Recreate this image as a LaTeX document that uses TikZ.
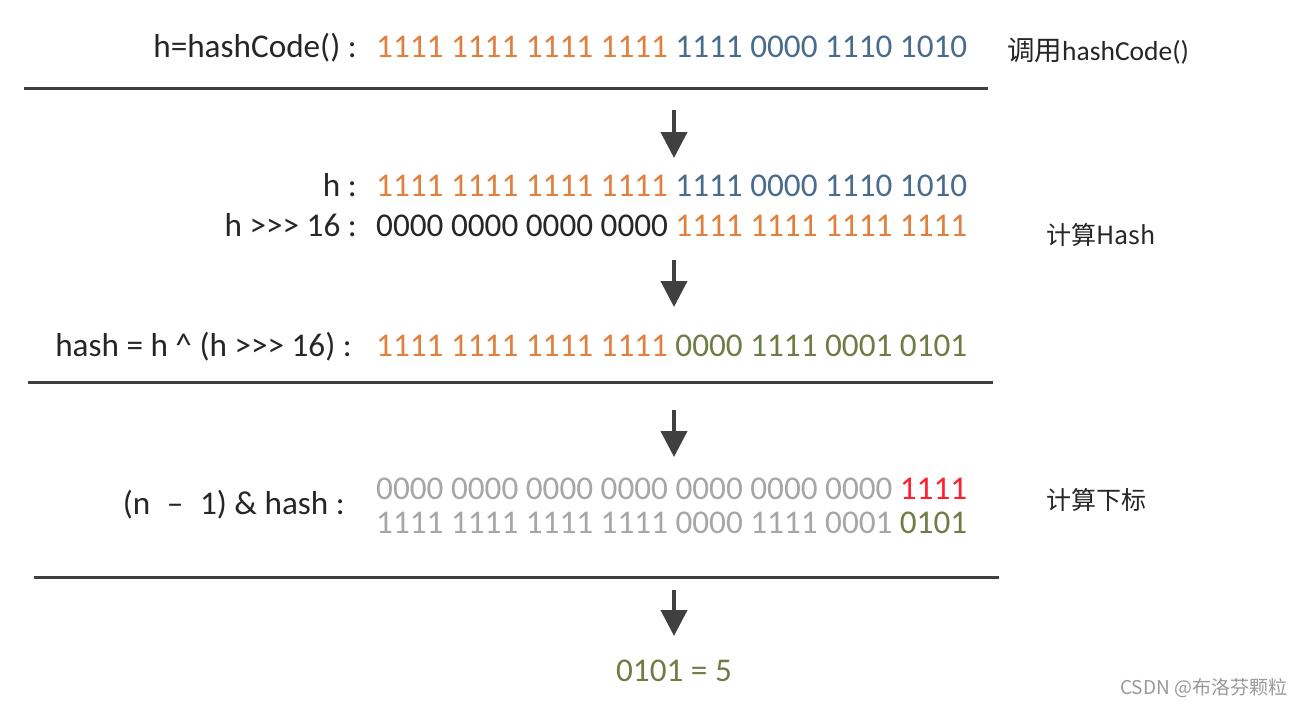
\documentclass[tikz,border=0pt]{standalone}
\usepackage{fontspec}
\setmainfont{Carlito}
\newfontfamily\cjk{Noto Sans CJK SC}
\usetikzlibrary{arrows.meta,positioning}
\definecolor{horange}{HTML}{E0803E}
\definecolor{hblue}{HTML}{4A6C8C}
\definecolor{holive}{HTML}{6E7D45}
\definecolor{hgray}{HTML}{A6A6A6}
\definecolor{hred}{HTML}{FF1F2F}
\definecolor{hdark}{HTML}{262626}
\definecolor{hrule}{HTML}{404040}
\newcommand{\shr}{>{}>{}>}

\begin{document}
\begin{tikzpicture}[x=1pt,y=-1pt,
  bits/.style={inner sep=0pt,font=\fontsize{33.2}{40}\selectfont,anchor=base west},
  lbl/.style={inner sep=0pt,font=\fontsize{33.2}{40}\selectfont,text=hdark,anchor=base east},
  side/.style={inner sep=0pt,font=\fontsize{27.5}{30}\selectfont,text=hdark,anchor=base west},
  sep/.style={hrule,line width=3pt},
  down/.style={hrule,line width=4pt,-{Triangle[width=26pt,length=26pt]}}]
  \useasboundingbox (0,0) rectangle (1307,704);
  % step 1: hashCode
  \node[lbl] (l1) at (357,57) {h=hashCode() :};
  \node[bits] (r1) at (376,57) {\textcolor{horange}{1111 1111 1111 1111} \textcolor{hblue}{1111 0000 1110 1010}};
  \node[side] (s1) at (1007,60) {{\cjk 调用}hashCode()};
  \draw[sep] (24,88) -- (988,88);
  \coordinate (a1s) at (674,110); \coordinate (a1e) at (674,158);
  \draw[down] (a1s) -- (a1e);
  % step 2: hash
  \node[lbl] (l2) at (357,196) {h :};
  \node[bits] (r2) at (376,196) {\textcolor{horange}{1111 1111 1111 1111} \textcolor{hblue}{1111 0000 1110 1010}};
  \node[lbl] (l3) at (357,236) {h \shr{} 16 :};
  \node[bits] (r3) at (376,236) {\textcolor{hdark}{0000 0000 0000 0000} \textcolor{horange}{1111 1111 1111 1111}};
  \node[side,font=\cjk\fontsize{25}{30}\selectfont] (s2) at (1046,244) {计算Hash};
  \coordinate (a2s) at (674,260); \coordinate (a2e) at (674,307);
  \draw[down] (a2s) -- (a2e);
  \node[lbl] (l4) at (352,356) {hash = h \^{} (h \shr{} 16) :};
  \node[bits] (r4) at (376,356) {\textcolor{horange}{1111 1111 1111 1111} \textcolor{holive}{0000 1111 0001 0101}};
  \draw[sep] (28,382) -- (993,382);
  \coordinate (a3s) at (674,410); \coordinate (a3e) at (674,457);
  \draw[down] (a3s) -- (a3e);
  % step 3: index
  \node[lbl] (l5) at (345,514) {(n\enspace–\enspace1) \& hash :};
  \node[bits] (r5) at (376,499) {\textcolor{hgray}{0000 0000 0000 0000 0000 0000 0000} \textcolor{hred}{1111}};
  \node[bits] (r6) at (376,533) {\textcolor{hgray}{1111 1111 1111 1111 0000 1111 0001} \textcolor{holive}{0101}};
  \node[side,font=\cjk\fontsize{25}{30}\selectfont] (s3) at (1046,509) {计算下标};
  \draw[sep] (34,577) -- (999,577);
  \coordinate (a4s) at (674,590); \coordinate (a4e) at (674,636);
  \draw[down] (a4s) -- (a4e);
  \node[bits,anchor=base,text=holive] (res) at (674,681) {0101 = 5};
  \node[inner sep=0pt,anchor=base west,text=gray!80,font=\cjk\fontsize{19}{22}\selectfont] (wm) at (1120,694) {CSDN @布洛芬颗粒};
\end{tikzpicture}
\end{document}
